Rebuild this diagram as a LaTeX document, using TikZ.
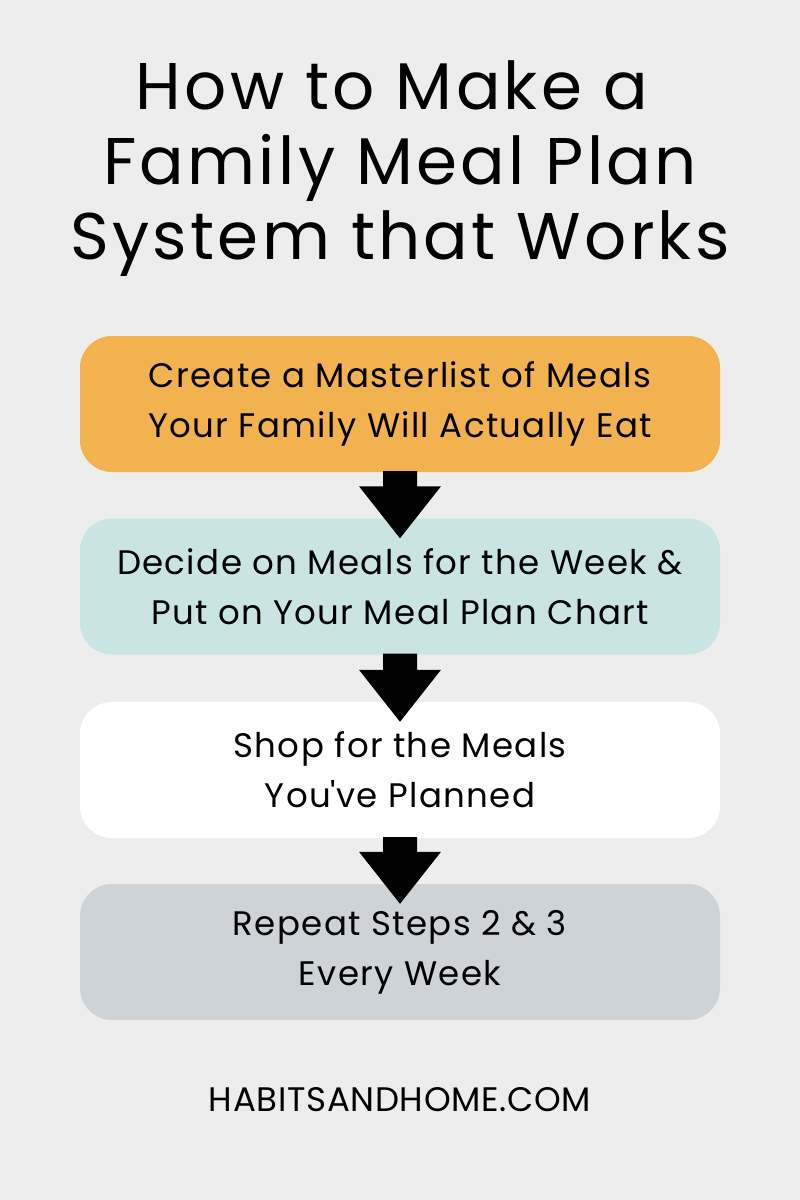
\documentclass[tikz,border=0pt]{standalone}
\usepackage{fontspec}
\setmainfont{Poppins}[LetterSpace=4]
\newfontfamily\footfont{Poppins}[LetterSpace=2]
\newfontfamily\titlefont{Poppins}[LetterSpace=5]
\usetikzlibrary{calc}
\definecolor{bg}{RGB}{237,237,237}
\definecolor{orangebox}{RGB}{243,178,80}
\definecolor{tealbox}{RGB}{202,228,228}
\definecolor{greybox}{RGB}{205,211,214}
\newcommand{\flowarrow}[2]{%
  \fill[black] ($(#1.south)+(-17,1)$) -- ($(#1.south)+(17,1)$) -- ($(#2.north)+(17,32)$) -- ($(#2.north)+(41,32)$) -- ($(#2.north)+(0,-20)$) -- ($(#2.north)+(-41,32)$) -- ($(#2.north)+(-17,32)$) -- cycle;}
\begin{document}
\begin{tikzpicture}[x=1pt,y=1pt,
  stepbox/.style={rounded corners=32pt, minimum width=640pt, minimum height=136pt,
    align=center, inner sep=0pt, font=\fontsize{34}{50}\selectfont, text=black},
  titletext/.style={font=\titlefont\fontsize{66}{75}\selectfont, align=center, text=black},
  footertext/.style={font=\footfont\fontsize{34}{40}\selectfont, text=black}]
\fill[bg] (0,0) rectangle (800,-1200);
\useasboundingbox (0,0) rectangle (800,-1200);
\node[titletext, anchor=base] (title) at (400,-259) {How to Make a\hspace*{0.25em}\\Family Meal Plan\\System that Works};
\node[stepbox, fill=orangebox] (s1) at (400,-404) {Create a Masterlist of Meals\\Your Family Will Actually Eat};
\node[stepbox, fill=tealbox] (s2) at (400,-586.5) {Decide on Meals for the Week \&\\Put on Your Meal Plan Chart};
\node[stepbox, fill=white] (s3) at (400,-770) {Shop for the Meals\\You\textquotesingle ve Planned};
\node[stepbox, fill=greybox] (s4) at (400,-952) {Repeat Steps 2 \& 3\\Every Week};
\flowarrow{s1}{s2}
\flowarrow{s2}{s3}
\flowarrow{s3}{s4}
\node[footertext, anchor=base] (footer) at (400,-1111) {HABITSANDHOME.COM};
\end{tikzpicture}
\end{document}
